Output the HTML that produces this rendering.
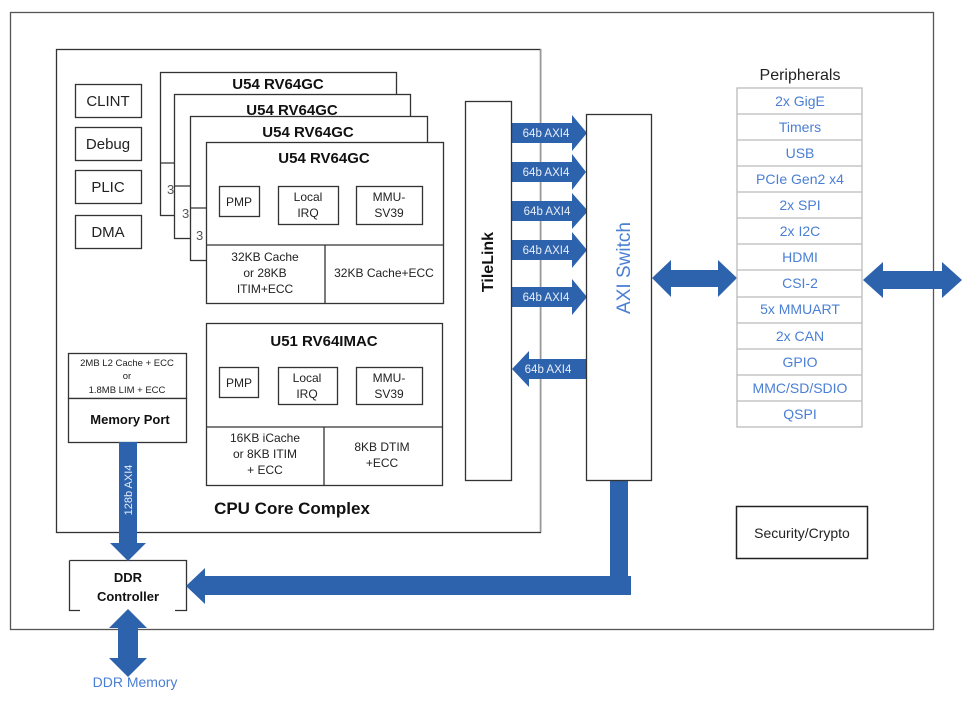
<!DOCTYPE html>
<html><head><meta charset="utf-8"><style>
html,body{margin:0;padding:0;background:#fff;}
svg text{font-family:"Liberation Sans",sans-serif;}
</style></head><body>
<svg width="976" height="700" viewBox="0 0 976 700" xmlns="http://www.w3.org/2000/svg">
<g fill="none" stroke="#333" stroke-width="1.3">
<rect x="10.5" y="12.5" width="923" height="617" stroke="#555"/>
<rect x="56.5" y="49.5" width="484" height="483"/>
</g>
<line x1="541" y1="49" x2="541" y2="532" stroke="#bbb" stroke-width="1.5"/>
<g fill="#fff" stroke="#333" stroke-width="1.3">
<rect x="75.5" y="84.5" width="66" height="33"/>
<rect x="75.5" y="127.5" width="66" height="33"/>
<rect x="75.5" y="170.5" width="66" height="33"/>
<rect x="75.5" y="215.5" width="66" height="33"/>
</g>
<g font-size="15" fill="#222" text-anchor="middle">
<text x="108" y="106">CLINT</text><text x="108" y="149">Debug</text><text x="108" y="192">PLIC</text><text x="108" y="237">DMA</text>
</g>
<g fill="#fff" stroke="#333" stroke-width="1.3">
<rect x="160.5" y="72.5" width="236" height="143"/>
<line x1="160" y1="163" x2="396" y2="163"/>
<rect x="174.5" y="94.5" width="236" height="144"/>
<line x1="174" y1="186" x2="410" y2="186"/>
<rect x="190.5" y="116.5" width="237" height="144"/>
<line x1="190" y1="208" x2="427" y2="208"/>
<rect x="206.5" y="142.5" width="237" height="161"/>
<line x1="206" y1="245" x2="443" y2="245"/>
<line x1="325" y1="245" x2="325" y2="303"/>
<rect x="219.5" y="186.5" width="40" height="30"/>
<rect x="278.5" y="186.5" width="60" height="38"/>
<rect x="356.5" y="186.5" width="66" height="38"/>
</g>
<g font-size="13" fill="#555">
<text x="167" y="194">3</text><text x="182" y="218">3</text><text x="196" y="240">3</text>
</g>
<g font-weight="bold" font-size="15" fill="#111" text-anchor="middle">
<text x="278" y="89">U54 RV64GC</text><text x="292" y="115">U54 RV64GC</text><text x="308" y="137">U54 RV64GC</text><text x="324" y="163">U54 RV64GC</text>
</g>
<g font-size="12" fill="#222" text-anchor="middle">
<text x="239" y="206">PMP</text>
<text x="308" y="201">Local</text><text x="308" y="217">IRQ</text>
<text x="389" y="201">MMU-</text><text x="389" y="217">SV39</text>
<text x="265" y="261">32KB Cache</text><text x="265" y="277">or 28KB</text><text x="265" y="293">ITIM+ECC</text>
<text x="384" y="277">32KB Cache+ECC</text>
</g>
<g fill="#fff" stroke="#333" stroke-width="1.3">
<rect x="206.5" y="323.5" width="236" height="162"/>
<line x1="206" y1="427" x2="442" y2="427"/>
<line x1="324" y1="427" x2="324" y2="485"/>
<rect x="219.5" y="367.5" width="39" height="30"/>
<rect x="278.5" y="367.5" width="59" height="37"/>
<rect x="356.5" y="367.5" width="66" height="37"/>
</g>
<g text-anchor="middle">
<text x="324" y="346" font-weight="bold" font-size="15" fill="#111">U51 RV64IMAC</text>
<g font-size="12" fill="#222">
<text x="239" y="387">PMP</text>
<text x="307" y="382">Local</text><text x="307" y="398">IRQ</text>
<text x="389" y="382">MMU-</text><text x="389" y="398">SV39</text>
<text x="265" y="442">16KB iCache</text><text x="265" y="458">or 8KB ITIM</text><text x="265" y="474">+ ECC</text>
<text x="382" y="451">8KB DTIM</text><text x="382" y="467">+ECC</text>
</g>
<text x="292" y="514" font-weight="bold" font-size="17" fill="#111">CPU Core Complex</text>
</g>
<g fill="#fff" stroke="#333" stroke-width="1.3">
<rect x="68.5" y="353.5" width="118" height="45"/>
<rect x="68.5" y="398.5" width="118" height="44"/>
</g>
<g text-anchor="middle" fill="#222">
<text x="127" y="366" font-size="9.5">2MB L2 Cache + ECC</text>
<text x="127" y="379" font-size="9.5">or</text>
<text x="127" y="393" font-size="9.5">1.8MB LIM + ECC</text>
<text x="130" y="424" font-size="13" font-weight="bold" fill="#111">Memory Port</text>
</g>
<rect x="69" y="560" width="117" height="50" fill="#fff"/>
<path d="M69.5 560.5 H186.5 V610.5 H175 M69.5 560.5 V610.5 H80" fill="none" stroke="#333" stroke-width="1.3"/>
<g text-anchor="middle" font-weight="bold" font-size="13" fill="#111">
<text x="128" y="582">DDR</text><text x="128" y="601">Controller</text>
</g>
<g fill="#2d62ad">
<path d="M119 442 H137 V543 H146 L128 561 L110 543 H119 Z"/>
<path d="M128 609 L147 628 H138 V658 H147 L128 677 L109 658 H118 V628 H109 Z"/>
<path d="M610 480 H628 V576 H631 V595 H205 V604 L186 586 L205 568 V576 H610 Z"/>
<path d="M510 123 H572 V115 L587 133 L572 151 V143 H510 Z"/>
<path d="M508 162 H572 V154 L586 172 L572 190 V182 H508 Z"/>
<path d="M511 201 H572 V193 L588 211 L572 229 V221 H511 Z"/>
<path d="M509 240 H572 V232 L587 250 L572 268 V260 H509 Z"/>
<path d="M507 287 H572 V279 L587 297 L572 315 V307 H507 Z"/>
<path d="M586 359 H529 V351 L512 369 L529 387 V379 H586 Z"/>
<path d="M652 278 L671 260 V270 H718 V260 L737 278 L718 297 V287 H671 V297 Z"/>
<path d="M863 280 L883 262 V271 H942 V262 L962 280 L942 298 V289 H883 V298 Z"/>
</g>
<g font-size="11.5" fill="#e8eef8" text-anchor="middle">
<text x="546" y="137">64b AXI4</text><text x="546" y="176">64b AXI4</text><text x="547" y="215">64b AXI4</text>
<text x="546" y="254">64b AXI4</text><text x="546" y="301">64b AXI4</text><text x="548" y="373">64b AXI4</text>
</g>
<text x="0" y="0" font-size="11" fill="#e8eef8" text-anchor="middle" transform="translate(132,490) rotate(-90)">128b AXI4</text>
<g fill="#fff" stroke="#333" stroke-width="1.3">
<rect x="465.5" y="101.5" width="46" height="379"/>
<rect x="586.5" y="114.5" width="65" height="366"/>
</g>
<text transform="translate(493,262) rotate(-90)" text-anchor="middle" font-weight="bold" font-size="16" fill="#111">TileLink</text>
<text transform="translate(630,268) rotate(-90)" text-anchor="middle" font-size="19" fill="#4a7fd4">AXI Switch</text>
<text x="800" y="80" text-anchor="middle" font-size="16" fill="#222">Peripherals</text>
<rect x="737" y="88" width="125" height="339" fill="#fff" stroke="#bbb" stroke-width="1.3"/>
<g stroke="#bbb" stroke-width="1.2">
<line x1="737" y1="114" x2="862" y2="114"/><line x1="737" y1="140" x2="862" y2="140"/>
<line x1="737" y1="166" x2="862" y2="166"/><line x1="737" y1="192" x2="862" y2="192"/>
<line x1="737" y1="218" x2="862" y2="218"/><line x1="737" y1="244" x2="862" y2="244"/>
<line x1="737" y1="270" x2="862" y2="270"/><line x1="737" y1="297" x2="862" y2="297"/>
<line x1="737" y1="323" x2="862" y2="323"/><line x1="737" y1="349" x2="862" y2="349"/>
<line x1="737" y1="375" x2="862" y2="375"/><line x1="737" y1="401" x2="862" y2="401"/>
</g>
<g font-size="14" fill="#4a7fd4" text-anchor="middle">
<text x="800" y="106">2x GigE</text><text x="800" y="132">Timers</text><text x="800" y="158">USB</text>
<text x="800" y="184">PCIe Gen2 x4</text><text x="800" y="210">2x SPI</text><text x="800" y="236">2x I2C</text>
<text x="800" y="262">HDMI</text><text x="800" y="288">CSI-2</text><text x="800" y="314">5x MMUART</text>
<text x="800" y="341">2x CAN</text><text x="800" y="367">GPIO</text><text x="800" y="393">MMC/SD/SDIO</text>
<text x="800" y="419">QSPI</text>
</g>
<rect x="736.5" y="506.5" width="131" height="52" fill="#fff" stroke="#222" stroke-width="1.5"/>
<text x="802" y="538" text-anchor="middle" font-size="14" fill="#222">Security/Crypto</text>
<text x="135" y="687" text-anchor="middle" font-size="14" fill="#4a7fd4">DDR Memory</text>
</svg>
</body></html>
